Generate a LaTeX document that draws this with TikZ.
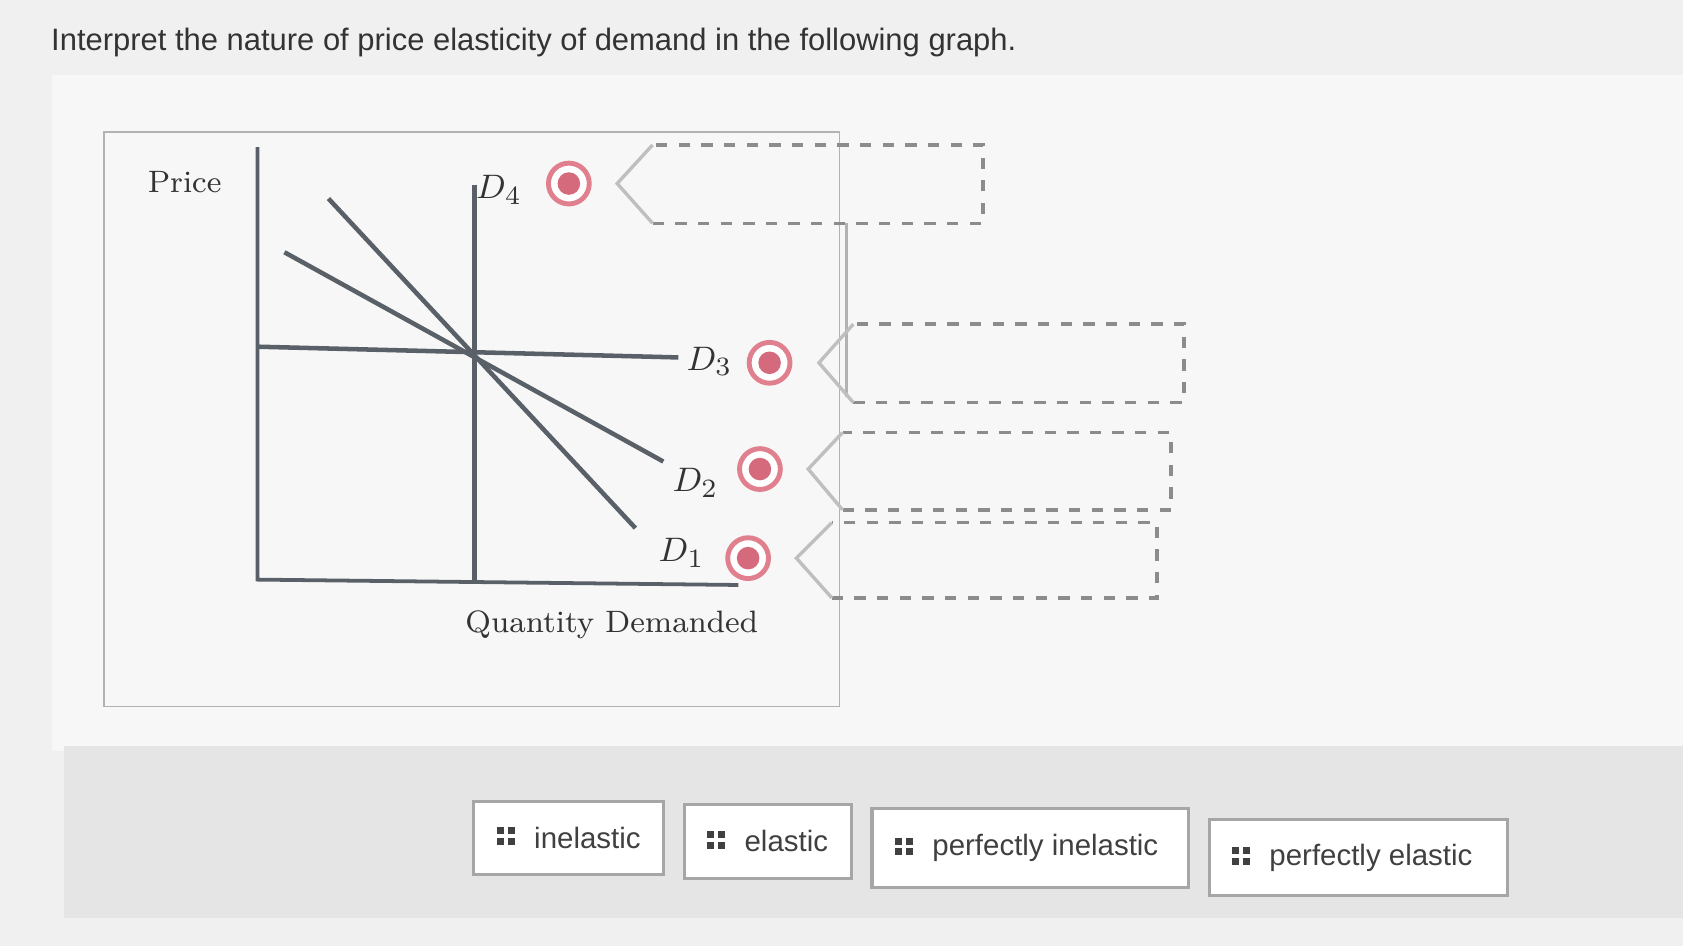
\documentclass[tikz,border=0pt]{standalone}
\usepackage{fontspec}
\setmainfont{Latin Modern Roman}
\newfontfamily\uisans{Liberation Sans}
\definecolor{ringc}{HTML}{E0808E}
\definecolor{dotc}{HTML}{D46A7C}
\definecolor{linec}{HTML}{5A6068}
\begin{document}
\begin{tikzpicture}[x=0.01cm,y=-0.01cm,
  curve/.style={line width=1.2pt,draw=linec},
  axis/.style={line width=1pt,draw=linec},
  lbl/.style={font=\fontsize{9.5}{11}\selectfont\itshape,text=black!80},
  target/.style={circle,draw=ringc,line width=1.3pt,minimum size=0.38cm,inner sep=0pt,fill=white},
  dot/.style={circle,fill=dotc,minimum size=0.21cm,inner sep=0pt},
  drop/.style={draw=black!45,dashed,line width=0.9pt},
  chev/.style={draw=black!25,line width=0.9pt},
  btn/.style={draw=black!35,fill=white,line width=0.8pt,inner sep=0pt,anchor=north west}]
\useasboundingbox (0,0) rectangle (1568,881);
\fill[black!6] (0,0) rectangle (1568,881);
\fill[black!3] (48,70) rectangle (1568,700);
\fill[black!10] (60,695) rectangle (1568,855);
\node[anchor=west,inner sep=0pt,font=\uisans\fontsize{8.2}{10}\selectfont,text=black!80] (title) at (47,40) {Interpret the nature of price elasticity of demand in the following graph.};
% graph panel
\draw[black!30,fill=white!97!black] (97,123) rectangle (782,658);
\draw[black!30,line width=0.8pt] (789,208) -- (789,370);
\coordinate (O) at (240,540);
\coordinate (Ytop) at (240,137);
\coordinate (Xend) at (688,545);
\draw[axis] (Ytop) -- (O) -- (Xend);
\coordinate (d4a) at (442,172); \coordinate (d4b) at (442,543);
\coordinate (d3a) at (240,323); \coordinate (d3b) at (632,333);
\coordinate (d2a) at (265,235); \coordinate (d2b) at (618,430);
\coordinate (d1a) at (306,185); \coordinate (d1b) at (592,492);
\draw[curve] (d4a) -- (d4b);
\draw[curve] (d3a) -- (d3b);
\draw[curve] (d2a) -- (d2b);
\draw[curve] (d1a) -- (d1b);
\node[font=\fontsize{8.2}{10}\selectfont,text=black!80] (price) at (172,170) {Price};
\node[lbl] (l4) at (465,177) {$D_4$};
\node[lbl] (l3) at (661,337) {$D_3$};
\node[lbl] (l2) at (648,450) {$D_2$};
\node[lbl] (l1) at (635,515) {$D_1$};
\node[font=\fontsize{8.2}{10}\selectfont,text=black!80] (qd) at (570,582) {Quantity Demanded};
% targets
\foreach \n/\x/\y in {t4/530/171,t3/717/338,t2/708/437,t1/697/520}{
  \node[target] (\n) at (\x,\y) {};
  \node[dot] at (\n) {};
}
% drop zones
\draw[drop] (608,208) -- (916,208) -- (916,135) -- (608,135);
\draw[chev] (608,135) -- (575,171) -- (608,208);
\draw[drop] (795,375) -- (1103,375) -- (1103,302) -- (795,302);
\draw[chev] (795,302) -- (763,338) -- (795,375);
\draw[drop] (785,475) -- (1091,475) -- (1091,403) -- (785,403);
\draw[chev] (785,403) -- (753,437) -- (785,475);
\draw[drop] (775,557) -- (1078,557) -- (1078,487) -- (775,487);
\draw[chev] (775,487) -- (742,520) -- (775,557);
% buttons
\foreach \n/\x/\y/\w/\h/\t in {b1/440/745/177/68/inelastic,b2/636/748/156/69/elastic,b3/811/752/295/73/perfectly inelastic,b4/1125/762/278/71/perfectly elastic}{
  \node[btn,minimum width=\w*0.01cm,minimum height=\h*0.01cm] (\n) at (\x,\y) {};
  \node[anchor=west,inner sep=0pt,font=\uisans\fontsize{7.8}{10}\selectfont,text=black!75] at ([xshift=0.57cm]\n.west) {\t};
  \foreach \dx in {0,10}{\foreach \dy in {-7,3}{
    \fill[black!75] ([xshift=\dx*0.01cm+0.23cm,yshift=\dy*0.01cm]\n.west) rectangle +(0.065cm,0.065cm);}}
}
\end{tikzpicture}
\end{document}
